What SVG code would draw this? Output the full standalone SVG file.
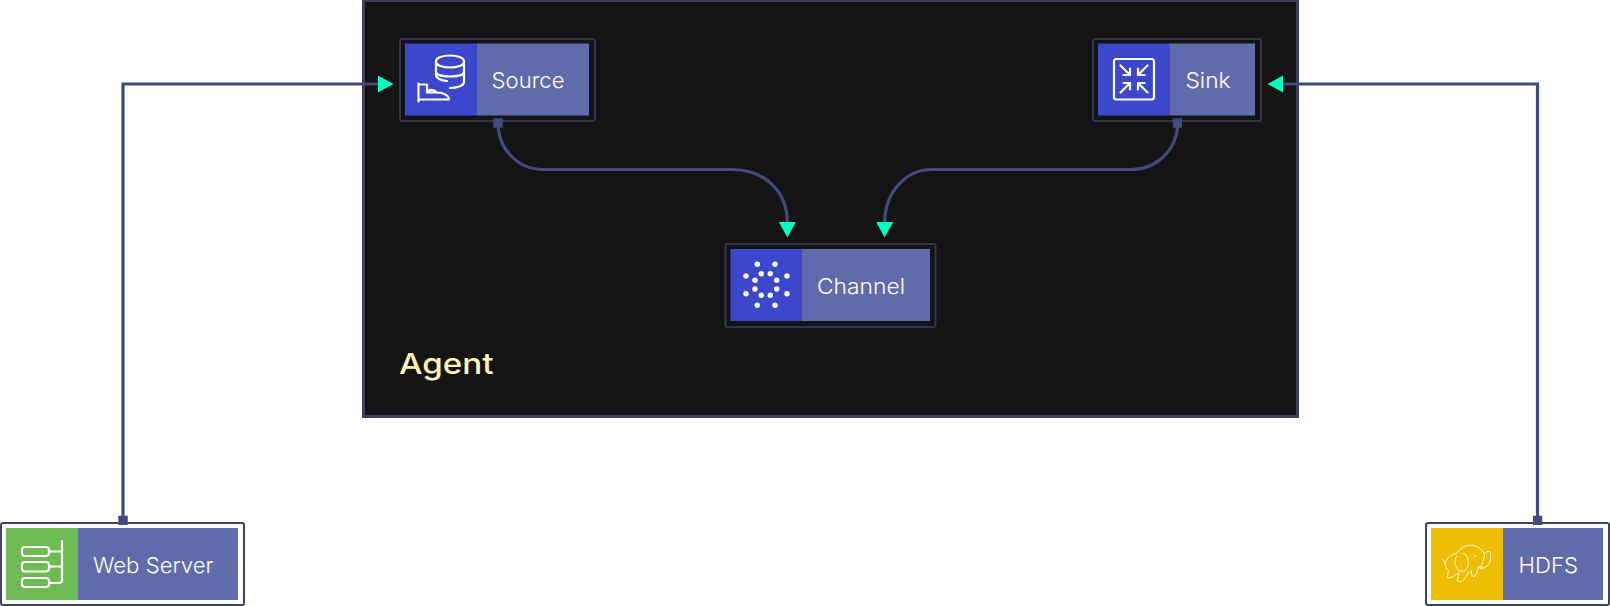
<svg xmlns="http://www.w3.org/2000/svg" width="1610" height="606" viewBox="0 0 1610 606">
<style>
.lbl{font-family:"Inter","Open Sans","Liberation Sans",sans-serif;font-size:22px;font-weight:300;fill:#fff}
.frame-d{fill:#141414;stroke:#33364a;stroke-width:2}
.frame-l{fill:#fff;stroke:#3f4263;stroke-width:2}
.body{fill:#5f6bab}
.blue{fill:#3b48cc}
.ic{fill:none;stroke:#fff;stroke-width:2.200;stroke-linecap:round;stroke-linejoin:round}
.el{fill:none;stroke:#fff;stroke-width:2.600;stroke-linecap:round;stroke-linejoin:round}
.conn{fill:none;stroke:#434a80;stroke-width:3.200}
</style>
<defs>
<marker id="arrow" markerUnits="userSpaceOnUse" markerWidth="17" markerHeight="18" refX="0" refY="8.500" orient="auto"><path d="M0 0L15.500 8.500L0 17Z" fill="#00ffc0"/></marker>
<marker id="port" markerUnits="userSpaceOnUse" markerWidth="10" markerHeight="10" refX="4.750" refY="4.750" orient="auto"><rect width="9.500" height="9.500" fill="#434a80"/></marker>
</defs>
<g id="agent">
<rect x="363.500" y="0.500" width="934" height="416" fill="#141414" stroke="#3b3f60" stroke-width="3"/>
<text x="399" y="373.500" font-family="Inter,'Open Sans','Liberation Sans',sans-serif" font-size="29" font-weight="500" fill="#fdf8b3" textLength="94.500" lengthAdjust="spacingAndGlyphs">Agent</text>
</g>
<g id="source">
<rect class="frame-d" x="400" y="39" width="195" height="82" rx="2"/>
<rect class="blue" x="405" y="43.500" width="72" height="72"/>
<rect class="body" x="477" y="43.500" width="112" height="72"/>
<path class="ic" d="M436 61.500c0-8 28-8 28 0s-28 8-28 0zM436 61.500V75c0 3 5 5.500 11 6M464 61.500V82c0 4-8 6-14 6M436 72c0 6 28 6 28 0"/>
<path class="ic" d="M418.500 83.500V101.500M418.500 84.500H427V92.500H437C444 92.500 449 96 449 99.500H418.500M427 92.500C428 89 434 89 437 92.500"/>
<text class="lbl" x="491.500" y="87.500" textLength="73" lengthAdjust="spacingAndGlyphs">Source</text>
</g>
<g id="sink">
<rect class="frame-d" x="1093" y="39" width="168" height="82" rx="2"/>
<rect class="blue" x="1098" y="43.500" width="72" height="72"/>
<rect class="body" x="1170" y="43.500" width="85" height="72"/>
<rect class="ic" x="1114" y="59" width="40" height="40.500" rx="2.500"/>
<path class="ic" d="M1120.500 65.500L1130 75M1130 68.500V75H1123.500M1147.500 65.500L1138 75M1138 68.500V75H1144.500M1120.500 92.500L1130 83M1123.500 83H1130V89.500M1147.500 92.500L1138 83M1144.500 83H1138V89.500"/>
<text class="lbl" x="1185.500" y="87.500" textLength="45" lengthAdjust="spacingAndGlyphs">Sink</text>
</g>
<g id="channel">
<rect class="frame-d" x="725.500" y="244" width="210" height="83" rx="2"/>
<rect class="blue" x="730.500" y="249" width="71.500" height="72"/>
<rect class="body" x="802" y="249" width="128" height="72"/>
<g fill="#fff">
<circle cx="757.300" cy="264.300" r="2.700"/><circle cx="775" cy="264.300" r="2.700"/>
<circle cx="761.300" cy="273.700" r="2.700"/><circle cx="770.300" cy="273.700" r="2.700"/>
<circle cx="746" cy="276" r="2.700"/><circle cx="787" cy="276" r="2.700"/>
<circle cx="755" cy="280.300" r="2.700"/><circle cx="776.700" cy="280.300" r="2.700"/>
<circle cx="755" cy="289" r="2.700"/><circle cx="776.700" cy="289" r="2.700"/>
<circle cx="746" cy="293.700" r="2.700"/><circle cx="787" cy="293.700" r="2.700"/>
<circle cx="761.300" cy="295.300" r="2.700"/><circle cx="770.300" cy="295.300" r="2.700"/>
<circle cx="757.300" cy="305.300" r="2.700"/><circle cx="775" cy="305.300" r="2.700"/>
</g>
<text class="lbl" x="817" y="293.500" textLength="88" lengthAdjust="spacingAndGlyphs">Channel</text>
</g>
<g id="web-server">
<rect class="frame-l" x="1" y="523" width="243" height="82" rx="2"/>
<rect x="6" y="528" width="72" height="72" fill="#6ebb53"/>
<rect class="body" x="78" y="528" width="160" height="72"/>
<g class="ic">
<rect x="22" y="547" width="27" height="9" rx="3"/>
<rect x="22" y="562" width="27" height="9.500" rx="3"/>
<rect x="22" y="578" width="27" height="9" rx="3"/>
<path d="M62 541V580Q62 583 59 583H49M49 551.500H62M49 566.500H62"/>
</g>
<text class="lbl" x="93" y="572.500" textLength="120.500" lengthAdjust="spacingAndGlyphs">Web Server</text>
</g>
<g id="hdfs">
<rect class="frame-l" x="1426" y="523" width="183" height="82" rx="2"/>
<rect x="1431" y="528" width="72" height="72" fill="#edbf00"/>
<rect class="body" x="1503" y="528" width="100" height="72"/>
<g transform="translate(1435 533) scale(.3333 .37)" class="el">
<path d="M30 82C35 65 50 58 65 55C75 40 95 30 115 34C130 36 142 45 148 56C152 50 160 48 166 52C170 68 165 85 152 92C145 97 137 96 130 92C128 100 125 110 118 118C110 118 108 110 110 102C103 105 98 110 92 118C88 128 78 135 68 130C66 122 72 112 72 108C62 112 52 122 40 122C35 118 38 108 42 102C35 98 30 92 30 82Z"/>
<path d="M65 62C55 75 60 95 75 102C85 108 98 100 100 85C100 70 95 55 85 55M130 92L142 90L138 98M30 80L22 70M148 56C148 65 146 75 140 84"/>
<circle cx="120" cy="62" r="2"/>
</g>
<text class="lbl" x="1518.500" y="572.500" textLength="59.500" lengthAdjust="spacingAndGlyphs">HDFS</text>
</g>
<g id="connectors">
<path class="conn" marker-start="url(#port)" marker-end="url(#arrow)" d="M123 520.500V84H378"/>
<path class="conn" marker-start="url(#port)" marker-end="url(#arrow)" d="M1537.500 520.500V84H1283"/>
<path class="conn" marker-start="url(#port)" marker-end="url(#arrow)" d="M498 123C498 149 518 169.500 543 169.500H731C767 169.500 787 193 787.300 222"/>
<path class="conn" marker-start="url(#port)" marker-end="url(#arrow)" d="M1177.600 123C1177.600 149 1157 169.500 1131 169.500H932C905 169.500 885 193 884.700 222"/>
</g>
</svg>
